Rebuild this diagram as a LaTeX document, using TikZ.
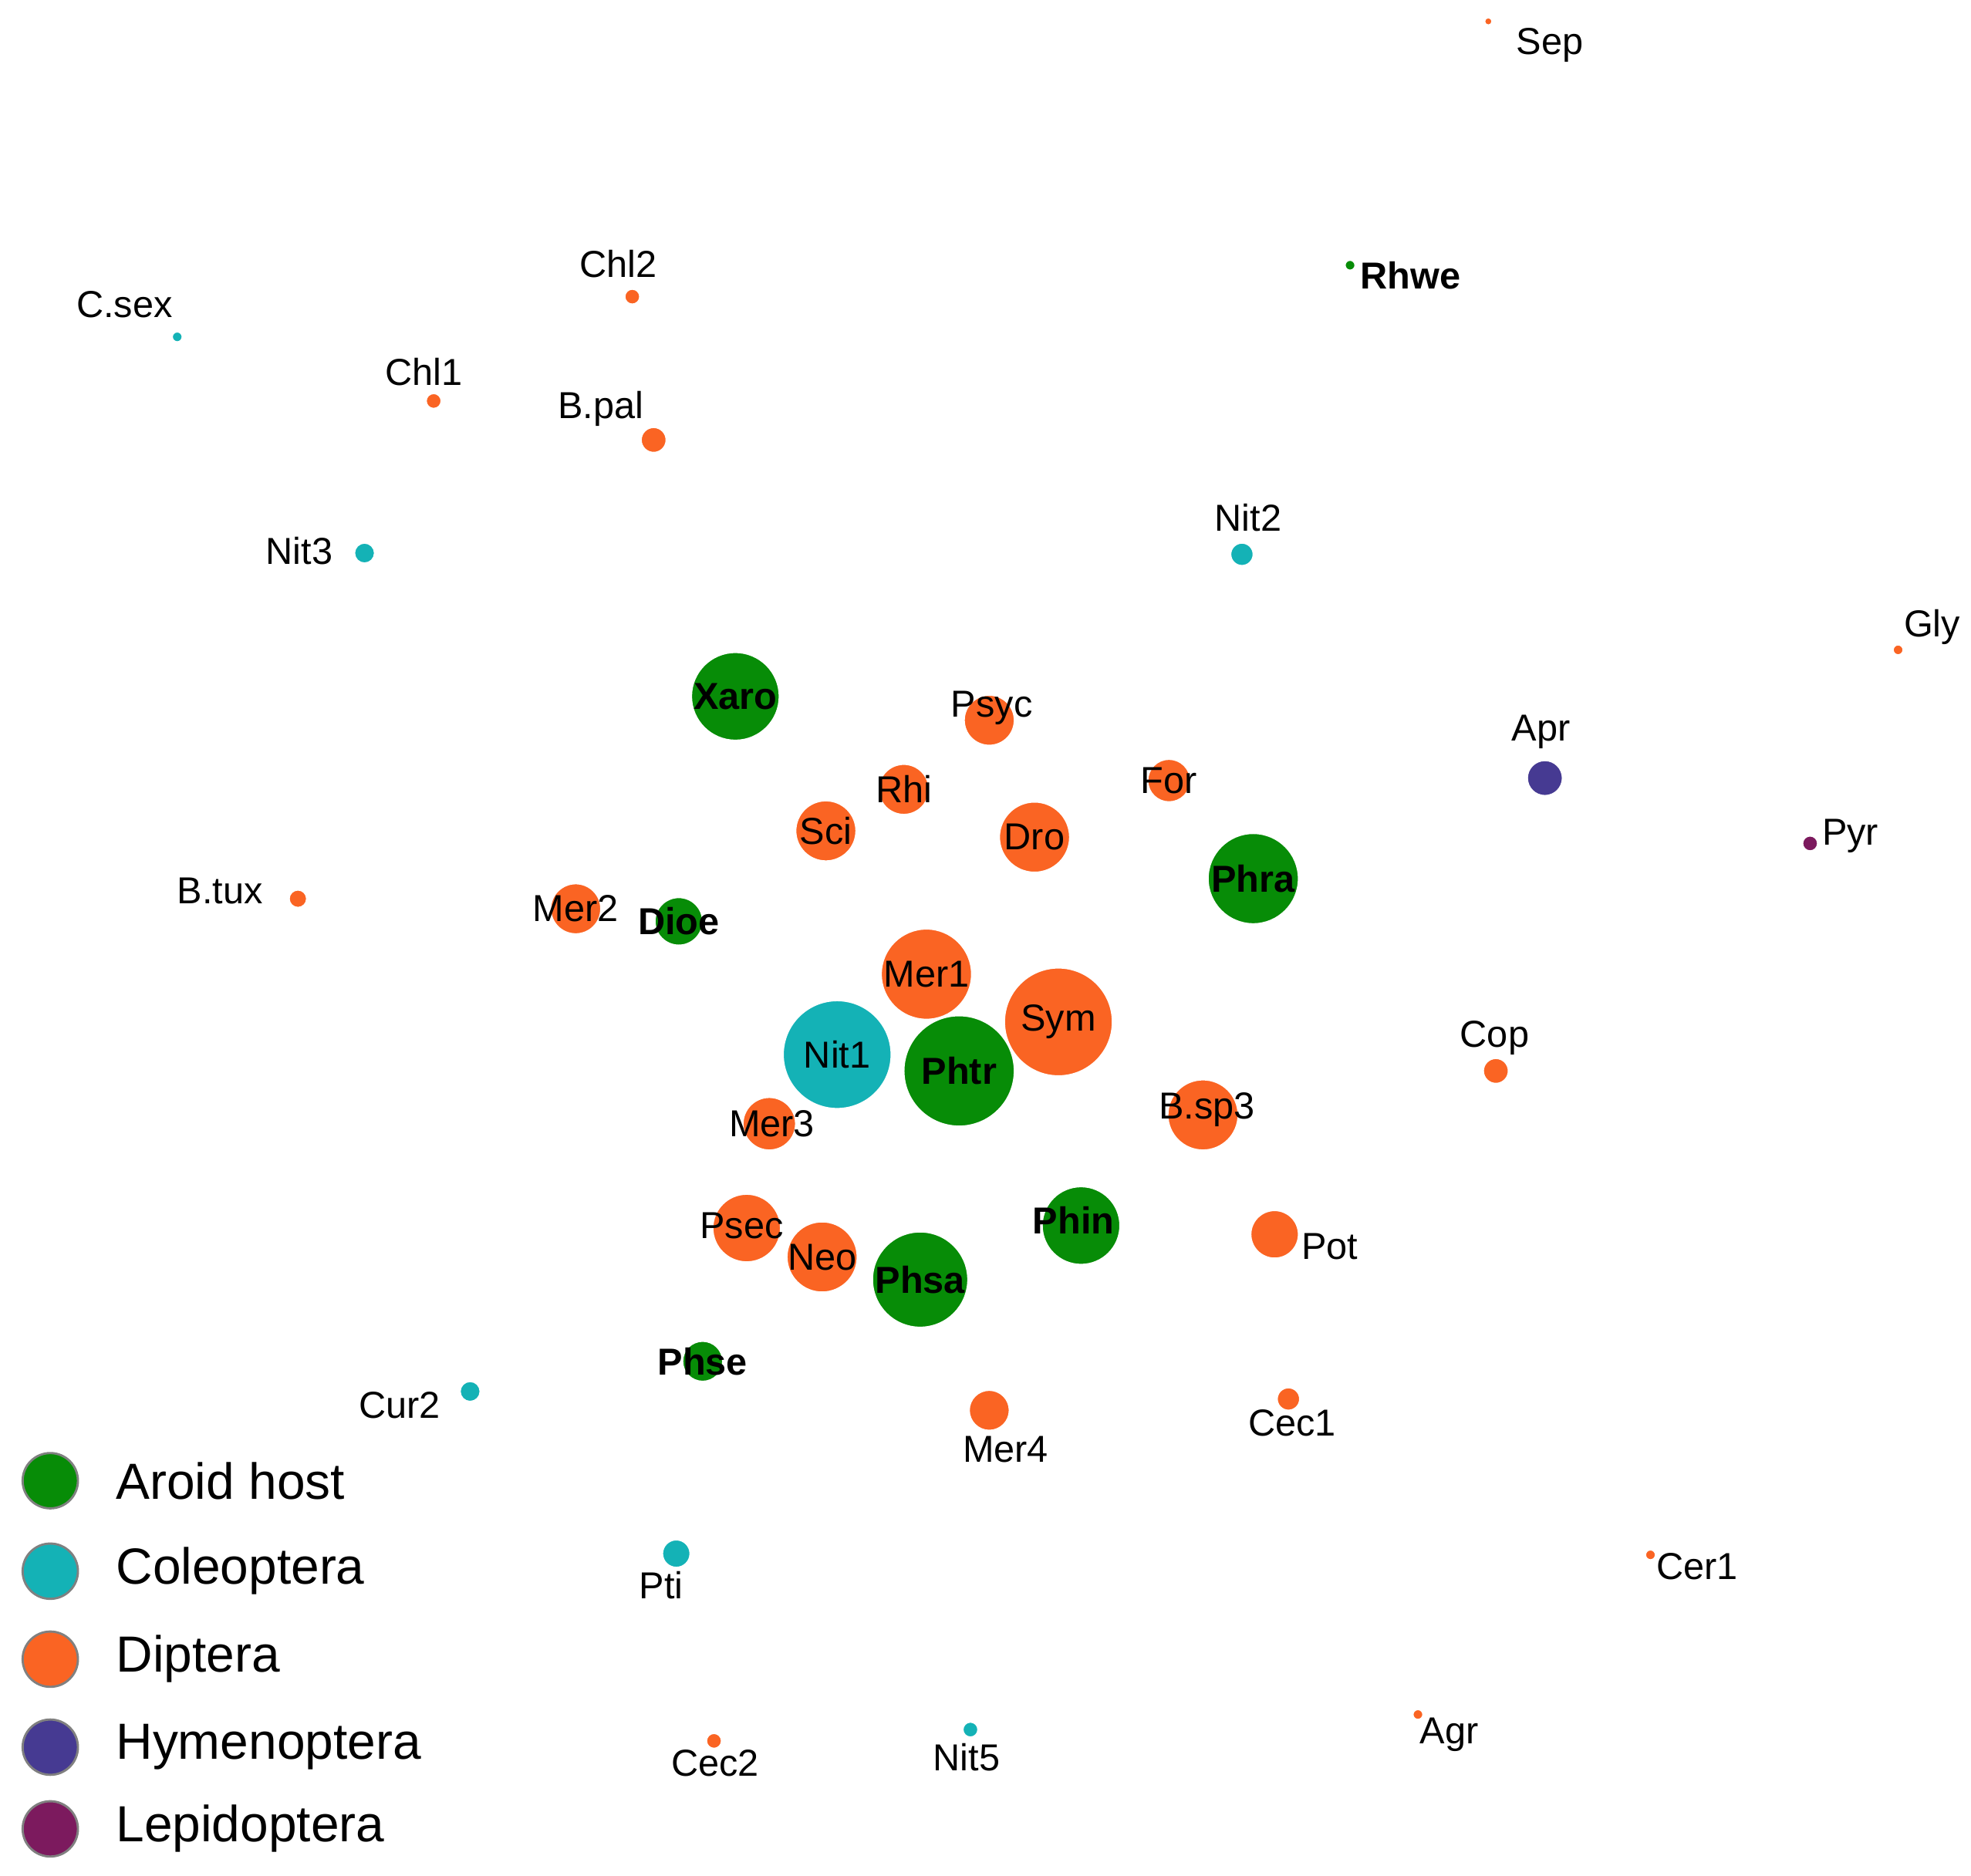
\documentclass[tikz,border=0pt]{standalone}
\usepackage{fontspec}
\setmainfont{Liberation Sans}
\usetikzlibrary{backgrounds}
\definecolor{cgr}{HTML}{078C07}
\definecolor{ccy}{HTML}{14B2B6}
\definecolor{cor}{HTML}{FA6423}
\definecolor{chy}{HTML}{463A92}
\definecolor{cle}{HTML}{7C1A5E}
\definecolor{ced}{HTML}{9A9A9A}
\tikzset{
 vx/.style={circle,inner sep=0pt,draw=white,line width=0.6pt},
 lb/.style={font=\fontsize{17}{18}\selectfont,inner sep=0pt},
 lbb/.style={font=\bfseries\fontsize{17}{18}\selectfont,inner sep=0pt},
 lg/.style={font=\fontsize{23}{24}\selectfont,anchor=west,inner sep=0pt},
 e/.style={draw=ced,line width=#1pt},
}
\newcommand\vtx[5]{\node[vx,fill=#5,minimum size=#4*0.04cm] (#1) at (#2,#3) {};}
\begin{document}
\begin{tikzpicture}[x={(0.02cm,0)},y={(0,-0.02cm)}]
\useasboundingbox[fill=white] (0,0) rectangle (1568,1492);
\vtx{Sep}{1184}{17}{3}{cor}
\vtx{Rhwe}{1074}{211}{4}{cgr}
\vtx{Chl2}{503}{236}{6}{cor}
\vtx{Csex}{141}{268}{4}{ccy}
\vtx{Chl1}{345}{319}{6}{cor}
\vtx{Bpal}{520}{350}{10}{cor}
\vtx{Nit3}{290}{440}{8}{ccy}
\vtx{Nit2}{988}{441}{9}{ccy}
\vtx{Gly}{1510}{517}{4}{cor}
\vtx{Xaro}{585}{554}{35}{cgr}
\vtx{Psyc}{787}{573}{20}{cor}
\vtx{Apr}{1229}{619}{14}{chy}
\vtx{For}{930}{621}{17}{cor}
\vtx{Rhi}{719}{628}{20}{cor}
\vtx{Sci}{657}{661}{24}{cor}
\vtx{Dro}{823}{666}{28}{cor}
\vtx{Pyr}{1440}{671}{6}{cle}
\vtx{Phra}{997}{699}{36}{cgr}
\vtx{Btux}{237}{715}{7}{cor}
\vtx{Mer2}{458}{723}{20}{cor}
\vtx{Dioe}{540}{733}{19}{cgr}
\vtx{Mer1}{737}{775}{36}{cor}
\vtx{Sym}{842}{813}{43}{cor}
\vtx{Nit1}{666}{839}{43}{ccy}
\vtx{Cop}{1190}{852}{10}{cor}
\vtx{Phtr}{763}{852}{44}{cgr}
\vtx{Bsp3}{957}{887}{28}{cor}
\vtx{Mer3}{612}{894}{21}{cor}
\vtx{Psec}{594}{977}{27}{cor}
\vtx{Phin}{860}{975}{31}{cgr}
\vtx{Pot}{1014}{982}{19}{cor}
\vtx{Neo}{654}{1000}{28}{cor}
\vtx{Phsa}{732}{1018}{38}{cgr}
\vtx{Phse}{559}{1083}{16}{cgr}
\vtx{Cur2}{374}{1107}{8}{ccy}
\vtx{Cec1}{1025}{1113}{9}{cor}
\vtx{Mer4}{787}{1122}{16}{cor}
\vtx{Pti}{538}{1236}{11}{ccy}
\vtx{Cer1}{1313}{1237}{4}{cor}
\vtx{Agr}{1128}{1364}{4}{cor}
\vtx{Cec2}{568}{1385}{6}{cor}
\vtx{Nit5}{772}{1376}{6}{ccy}
\begin{scope}[on background layer]
\foreach \a/\b/\w in {Sep/Rhwe/5,Rhwe/Dro/1.5,Csex/Xaro/1,Chl1/Xaro/3,Chl2/Xaro/3,Bpal/Xaro/5,Nit3/Xaro/4,Nit2/Xaro/1,Nit2/Phra/3,
 Gly/Apr/1,Apr/Phra/7,Pyr/Phra/2,Xaro/Psyc/4,Xaro/Rhi/3,Xaro/For/1,Xaro/Sci/3,Xaro/Dro/2,Xaro/Mer2/3,Xaro/Nit1/4,Xaro/Phtr/3,Xaro/Sym/2,Xaro/Mer1/2,
 Btux/Mer2/6,Mer2/Dioe/5,Mer2/Nit1/3,Mer2/Mer1/1,Dioe/Dro/5,Dioe/Sci/3,Dioe/Mer3/1,Dioe/Phsa/1,Dioe/Phin/1,
 Psyc/Phra/3,Psyc/Phtr/1.5,Psyc/Sci/1,For/Phra/2,For/Phsa/3,Rhi/Phra/2,Rhi/Mer1/2,Sci/Phra/1,Sci/Mer1/3,Sci/Phin/2,
 Dro/Phra/3,Dro/Sym/2,Dro/Phtr/1,Phra/Mer1/2,Phra/Sym/5,Phra/Bsp3/5,Phra/Cop/1,Phra/Pot/2,Phra/Phtr/2,Phra/Nit1/2,
 Sym/Cop/2,Sym/Phin/3,Sym/Phsa/3,Phtr/Bsp3/3,Phtr/Phin/3,Phtr/Phsa/3,Phtr/Psec/2,Phtr/Neo/3,Phtr/Mer4/2,Phtr/Cec1/1,
 Nit1/Phsa/4,Nit1/Psec/2,Bsp3/Phin/4,Phin/Pot/3,Phin/Phsa/5,Phin/Mer4/4,Phin/Cec1/2,Phin/Agr/1.5,Phin/Cer1/1,Phin/Psec/2,Phin/Neo/2,
 Pot/Phsa/2,Pot/Phse/1,Pot/Neo/2,Psec/Phse/5,Psec/Cur2/1,Psec/Mer3/2,Psec/Pti/3,Phsa/Cec2/2,Phsa/Pti/3,Phsa/Phse/2,Phsa/Nit5/2,Phsa/Neo/2,
 Phse/Pti/4,Phse/Mer4/3,Phse/Neo/2,Cur2/Phin/1,Mer3/Phsa/2,Mer3/Phtr/2}
 \draw[e=\w] (\a) -- (\b);
\end{scope}
\node[lb] (tSep) at (1233,36) {Sep};
\node[lbb] (tRhwe) at (1122,219) {Rhwe};
\node[lb] (tChl2) at (492,210) {Chl2};
\node[lb] (tCsex) at (99,242) {C.sex};
\node[lb] (tChl1) at (337,296) {Chl1};
\node[lb] (tBpal) at (478,325) {B.pal};
\node[lb] (tNit3) at (238,438) {Nit3};
\node[lb] (tNit2) at (993,412) {Nit2};
\node[lb] (tGly) at (1537,499) {Gly};
\node[lbb] (tXaro) at (Xaro) {Xaro};
\node[lb] (tPsyc) at (789,563) {Psyc};
\node[lb] (tApr) at (1226,582) {Apr};
\node[lb] (tFor) at (For) {For};
\node[lb] (tRhi) at (Rhi) {Rhi};
\node[lb] (tSci) at (Sci) {Sci};
\node[lb] (tDro) at (Dro) {Dro};
\node[lb] (tPyr) at (1472,665) {Pyr};
\node[lbb] (tPhra) at (Phra) {Phra};
\node[lb] (tBtux) at (175,709) {B.tux};
\node[lb] (tMer2) at (Mer2) {Mer2};
\node[lbb] (tDioe) at (Dioe) {Dioe};
\node[lb] (tMer1) at (Mer1) {Mer1};
\node[lb] (tSym) at (Sym) {Sym};
\node[lb] (tNit1) at (Nit1) {Nit1};
\node[lb] (tCop) at (1189,826) {Cop};
\node[lbb] (tPhtr) at (Phtr) {Phtr};
\node[lb] (tBsp3) at (960,883) {B.sp3};
\node[lb] (tMer3) at (614,894) {Mer3};
\node[lb] (tPsec) at (590,975) {Psec};
\node[lbb] (tPhin) at (854,971) {Phin};
\node[lb] (tPot) at (1058,992) {Pot};
\node[lb] (tNeo) at (Neo) {Neo};
\node[lbb] (tPhsa) at (Phsa) {Phsa};
\node[lbb] (tPhse) at (Phse) {Phse};
\node[lb] (tCur2) at (318,1118) {Cur2};
\node[lb] (tCec1) at (1028,1132) {Cec1};
\node[lb] (tMer4) at (800,1153) {Mer4};
\node[lb] (tPti) at (526,1261) {Pti};
\node[lb] (tCer1) at (1350,1246) {Cer1};
\node[lb] (tAgr) at (1153,1380) {Agr};
\node[lb] (tCec2) at (569,1403) {Cec2};
\node[lb] (tNit5) at (769,1398) {Nit5};
\foreach \c/\t/\yy [count=\i] in {cgr/Aroid host/1178,ccy/Coleoptera/1250,cor/Diptera/1320,chy/Hymenoptera/1390,cle/Lepidoptera/1455}{
 \node[circle,fill=\c,draw=gray,line width=1pt,minimum size=0.88cm,inner sep=0pt] (lc\i) at (40,\yy) {};
 \node[lg] (lt\i) at (92,\yy) {\t};
}
\end{tikzpicture}
\end{document}
